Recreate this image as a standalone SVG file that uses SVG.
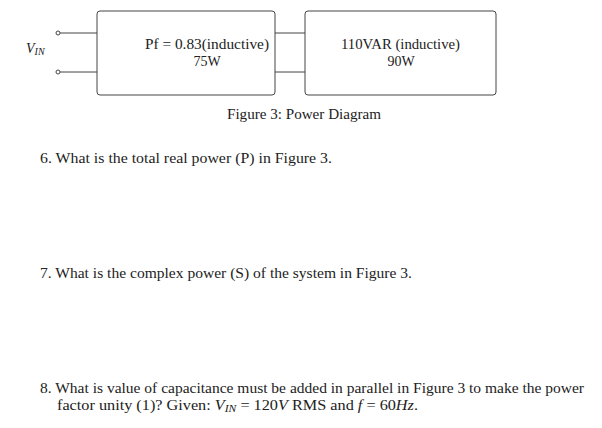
<svg xmlns="http://www.w3.org/2000/svg" width="602" height="428" viewBox="0 0 602 428">
<style>
text{font-family:"Liberation Serif",serif;font-size:14px;fill:#222}
.c{text-anchor:middle}
.box{fill:#fff;stroke:#444;stroke-width:1}
.w{stroke:#444;stroke-width:1;fill:none}
</style>
<rect width="602" height="428" fill="#fff"/>
<g id="connectors">
<circle cx="58" cy="33" r="2" class="w"/>
<circle cx="58" cy="72" r="2" class="w"/>
<line x1="60" y1="33" x2="97" y2="33" class="w"/>
<line x1="60" y1="72" x2="97" y2="72" class="w"/>
<line x1="275" y1="33" x2="305" y2="33" class="w"/>
<line x1="275" y1="72" x2="305" y2="72" class="w"/>
</g>
<g id="vin"><text x="26" y="53" font-style="italic">V<tspan font-size="10" dy="2">IN</tspan></text></g>
<g id="load1">
<rect x="97" y="11" width="178" height="84" rx="3" class="box"/>
<text x="145" y="49" textLength="124" lengthAdjust="spacingAndGlyphs">Pf = 0.83(inductive)</text>
<text x="207" y="66" class="c">75W</text>
</g>
<g id="load2">
<rect x="305" y="11" width="191" height="84" rx="3" class="box"/>
<text x="341" y="49" textLength="119" lengthAdjust="spacingAndGlyphs">110VAR (inductive)</text>
<text x="401" y="66" class="c">90W</text>
</g>
<text x="227" y="119" textLength="154" lengthAdjust="spacingAndGlyphs">Figure 3: Power Diagram</text>
<text x="40" y="163" textLength="292" lengthAdjust="spacingAndGlyphs">6.  What is the total real power (P) in Figure 3.</text>
<text x="40" y="278" textLength="372" lengthAdjust="spacingAndGlyphs">7.  What is the complex power (S) of the system in Figure 3.</text>
<text x="40" y="393" textLength="544" lengthAdjust="spacingAndGlyphs">8.  What is value of capacitance must be added in parallel in Figure 3 to make the power</text>
<text x="57" y="410" textLength="361" lengthAdjust="spacingAndGlyphs">factor unity (1)? Given: <tspan font-style="italic">V</tspan><tspan font-style="italic" font-size="10" dy="2">IN</tspan><tspan dy="-2"> = 120</tspan><tspan font-style="italic">V</tspan> RMS and <tspan font-style="italic">f</tspan> = 60<tspan font-style="italic">Hz</tspan>.</text>
</svg>
